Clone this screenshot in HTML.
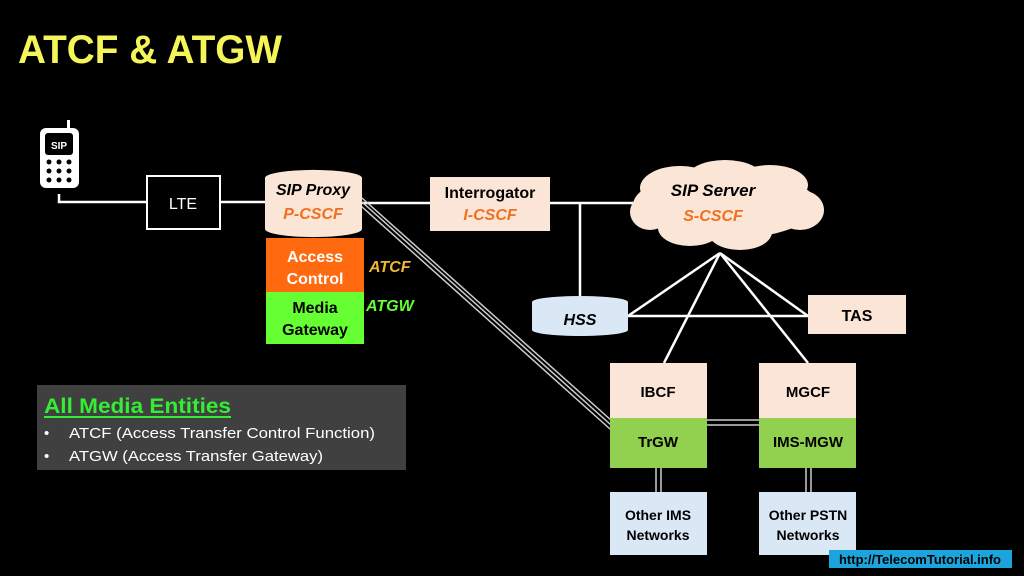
<!DOCTYPE html>
<html><head><meta charset="utf-8"><style>
html,body{margin:0;padding:0;background:#000;}
svg{display:block;}
text{font-family:"Liberation Sans",sans-serif;}
</style></head><body>
<svg width="1024" height="576" viewBox="0 0 1024 576" xmlns="http://www.w3.org/2000/svg">
<rect width="1024" height="576" fill="#000"/>
<text x="18" y="63" font-size="40" font-weight="bold" fill="#f5f55a" textLength="264" lengthAdjust="spacingAndGlyphs">ATCF &amp; ATGW</text>

<!-- phone -->
<rect x="67" y="120" width="3" height="10" fill="#fff"/>
<rect x="40" y="128" width="39" height="60" rx="6" fill="#fff"/>
<rect x="45" y="133" width="28" height="22" rx="3" fill="#000"/>
<text x="59" y="149" font-size="10" font-weight="bold" fill="#fff" text-anchor="middle">SIP</text>
<g fill="#000">
<circle cx="49" cy="162" r="2.5"/><circle cx="59" cy="162" r="2.5"/><circle cx="69" cy="162" r="2.5"/>
<circle cx="49" cy="171" r="2.5"/><circle cx="59" cy="171" r="2.5"/><circle cx="69" cy="171" r="2.5"/>
<circle cx="49" cy="180" r="2.5"/><circle cx="59" cy="180" r="2.5"/><circle cx="69" cy="180" r="2.5"/>
</g>

<g stroke="#fff" stroke-width="2.5" fill="none">
<polyline points="59,194 59,202 146,202"/>
<line x1="220" y1="202" x2="266" y2="202"/>
<line x1="362" y1="203" x2="430" y2="203"/>
<line x1="550" y1="203" x2="640" y2="203"/>
<line x1="580" y1="203" x2="580" y2="298"/>
<line x1="628" y1="316" x2="808" y2="316"/>
<line x1="720" y1="253" x2="628" y2="316"/>
<line x1="720" y1="253" x2="808" y2="316"/>
<line x1="720" y1="253" x2="664" y2="363"/>
<line x1="720" y1="253" x2="808" y2="363"/>
</g>
<g stroke="#ccc" stroke-width="1.5">
<line x1="362" y1="198" x2="612" y2="421"/>
<line x1="362" y1="202" x2="611" y2="425"/>
<line x1="361" y1="206" x2="610" y2="429"/>
<line x1="707" y1="420" x2="759" y2="420"/>
<line x1="707" y1="425" x2="759" y2="425"/>
<line x1="656" y1="468" x2="656" y2="492"/>
<line x1="661" y1="468" x2="661" y2="492"/>
<line x1="806" y1="468" x2="806" y2="492"/>
<line x1="811" y1="468" x2="811" y2="492"/>
</g>

<rect x="147" y="176" width="73" height="53" fill="#000" stroke="#fff" stroke-width="2"/>
<text x="183" y="209" font-size="16" fill="#fff" text-anchor="middle">LTE</text>

<path d="M265,178 A48,8 0 0 1 362,178 L362,229 A48,8 0 0 1 265,229 Z" fill="#fbe5d6"/>
<text x="313" y="195" font-size="16" font-weight="bold" font-style="italic" fill="#000" text-anchor="middle">SIP Proxy</text>
<text x="313" y="219" font-size="16" font-weight="bold" font-style="italic" fill="#f07020" text-anchor="middle">P-CSCF</text>

<rect x="266" y="238" width="98" height="54" fill="#ff6a10"/>
<text x="315" y="262" font-size="16" font-weight="bold" fill="#fff" text-anchor="middle">Access</text>
<text x="315" y="284" font-size="16" font-weight="bold" fill="#fff" text-anchor="middle">Control</text>
<rect x="266" y="292" width="98" height="52" fill="#66ff33"/>
<text x="315" y="313" font-size="16" font-weight="bold" fill="#000" text-anchor="middle">Media</text>
<text x="315" y="335" font-size="16" font-weight="bold" fill="#000" text-anchor="middle">Gateway</text>
<text x="369" y="272" font-size="16" font-weight="bold" font-style="italic" fill="#f0b830">ATCF</text>
<text x="366" y="311" font-size="16" font-weight="bold" font-style="italic" fill="#66ff33">ATGW</text>

<rect x="430" y="177" width="120" height="54" fill="#fbe5d6"/>
<text x="490" y="198" font-size="16" font-weight="bold" fill="#000" text-anchor="middle">Interrogator</text>
<text x="490" y="220" font-size="16" font-weight="bold" font-style="italic" fill="#f07020" text-anchor="middle">I-CSCF</text>

<g fill="#fbe5d6">
<ellipse cx="725" cy="205" rx="92" ry="34"/>
<ellipse cx="680" cy="188" rx="40" ry="22"/>
<ellipse cx="725" cy="178" rx="38" ry="18"/>
<ellipse cx="770" cy="185" rx="38" ry="20"/>
<ellipse cx="800" cy="210" rx="24" ry="20"/>
<ellipse cx="650" cy="212" rx="20" ry="18"/>
<ellipse cx="690" cy="228" rx="32" ry="18"/>
<ellipse cx="740" cy="232" rx="32" ry="18"/>
</g>
<text x="713" y="196" font-size="17" font-weight="bold" font-style="italic" fill="#000" text-anchor="middle">SIP Server</text>
<text x="713" y="221" font-size="16" font-weight="bold" font-style="italic" fill="#f07020" text-anchor="middle">S-CSCF</text>

<path d="M532,302 A48,6 0 0 1 628,302 L628,330 A48,6 0 0 1 532,330 Z" fill="#dae8f5"/>
<text x="580" y="325" font-size="16" font-weight="bold" font-style="italic" fill="#000" text-anchor="middle">HSS</text>

<rect x="808" y="295" width="98" height="39" fill="#fbe5d6"/>
<text x="857" y="321" font-size="16" font-weight="bold" fill="#000" text-anchor="middle">TAS</text>

<rect x="610" y="363" width="97" height="55" fill="#fbe5d6"/>
<text x="658" y="397" font-size="15" font-weight="bold" fill="#000" text-anchor="middle">IBCF</text>
<rect x="610" y="418" width="97" height="50" fill="#92d050"/>
<text x="658" y="447" font-size="15" font-weight="bold" fill="#000" text-anchor="middle">TrGW</text>
<rect x="759" y="363" width="97" height="55" fill="#fbe5d6"/>
<text x="808" y="397" font-size="15" font-weight="bold" fill="#000" text-anchor="middle">MGCF</text>
<rect x="759" y="418" width="97" height="50" fill="#92d050"/>
<text x="808" y="447" font-size="15" font-weight="bold" fill="#000" text-anchor="middle">IMS-MGW</text>

<rect x="610" y="492" width="97" height="63" fill="#dae8f5"/>
<text x="658" y="520" font-size="14" font-weight="bold" fill="#000" text-anchor="middle">Other IMS</text>
<text x="658" y="540" font-size="14" font-weight="bold" fill="#000" text-anchor="middle">Networks</text>
<rect x="759" y="492" width="97" height="63" fill="#dae8f5"/>
<text x="808" y="520" font-size="14" font-weight="bold" fill="#000" text-anchor="middle">Other PSTN</text>
<text x="808" y="540" font-size="14" font-weight="bold" fill="#000" text-anchor="middle">Networks</text>

<rect x="829" y="550" width="183" height="18" fill="#1ca4dc"/>
<text x="920" y="564" font-size="13" font-weight="bold" fill="#000" text-anchor="middle">http://TelecomTutorial.info</text>

<rect x="37" y="385" width="369" height="85" fill="#404040"/>
<text x="44" y="413" font-size="21" font-weight="bold" fill="#33ee33" textLength="187" lengthAdjust="spacingAndGlyphs">All Media Entities</text>
<rect x="44" y="416" width="187" height="2" fill="#33ee33"/>
<text x="44" y="438" font-size="15" fill="#fff">•</text>
<text x="69" y="438" font-size="15" fill="#fff" textLength="306" lengthAdjust="spacingAndGlyphs">ATCF (Access Transfer Control Function)</text>
<text x="44" y="461" font-size="15" fill="#fff">•</text>
<text x="69" y="461" font-size="15" fill="#fff" textLength="254" lengthAdjust="spacingAndGlyphs">ATGW (Access Transfer Gateway)</text>
</svg>
</body></html>
